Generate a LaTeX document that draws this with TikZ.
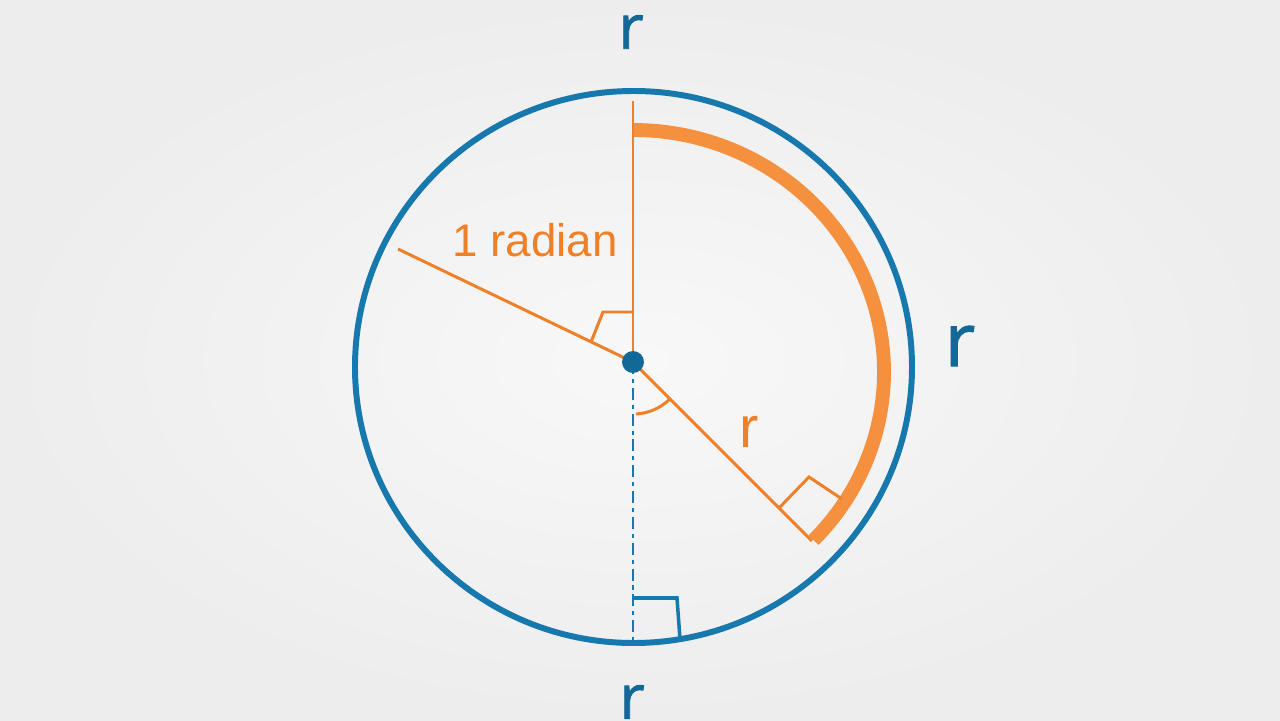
\documentclass[tikz,border=0pt]{standalone}
\usepackage{fontspec}
\setmainfont{Liberation Sans}
\newfontfamily\labelfont[FakeBold=1.5]{Open Sans}
\definecolor{cblue}{RGB}{22,120,172}
\definecolor{dblue}{RGB}{18,104,150}
\definecolor{corange}{RGB}{238,128,40}
\definecolor{lorange}{RGB}{245,145,62}
\definecolor{bgin}{RGB}{248,248,248}
\definecolor{bgout}{RGB}{237,237,237}
\tikzset{
  thin line/.style={corange, line width=1.7pt},
  blue r/.style={text=dblue, inner sep=0pt},
}

\begin{document}
\begin{tikzpicture}[x=0.02cm,y=0.02cm]
\shade[inner color=bgin, outer color=bgout] (-633,-358) rectangle (647,362);
\useasboundingbox (-633,-358) rectangle (647,362);
\coordinate (o) at (0,0);
\coordinate (t) at (0,261);
\coordinate (l) at (-235,113);
\coordinate (e) at (-45:253);
\coordinate (b) at (0,-280);
% circle
\draw[cblue, line width=3.4pt] (0.5,-5) ellipse [x radius=278.5, y radius=276];
\draw[lorange, line width=7.9pt] (0,232) arc[start angle=90, end angle=-44, x radius=251, y radius=242];
\draw[thin line] (o) -- (t);
\draw[thin line] (o) -- (l);
\draw[thin line] (o) -- (e);
\draw[thin line] (0,50) -- (-30,50) -- (-42,20);
\draw[thin line] (3,-52) arc[start angle=-87, end angle=-46, radius=52];
\draw[thin line] (146,-146) -- (176,-115) -- (209,-137);
\draw[cblue, line width=1.4pt, dash pattern=on 6.8pt off 2.8pt on 2.3pt off 2.8pt] (o) -- (b);
\draw[cblue, line width=2pt] (0,-236) -- (44,-236) -- (47,-277);
\fill[dblue] (o) circle (11);
\node[blue r, font=\labelfont\fontsize{35}{35}\selectfont] (rtop) at (-2,330) {r};
\node[blue r, font=\labelfont\fontsize{42}{42}\selectfont] (rright) at (327,16) {r};
\node[blue r, font=\labelfont\fontsize{35}{35}\selectfont] (rbottom) at (-1,-340) {r};
\node[text=corange, inner sep=0pt, font=\fontsize{26}{26}\selectfont] (rad) at (-98,122) {1 radian};
\node[text=corange, inner sep=0pt, font=\fontsize{33}{33}\selectfont] (rlen) at (116,-70) {r};
\end{tikzpicture}
\end{document}
